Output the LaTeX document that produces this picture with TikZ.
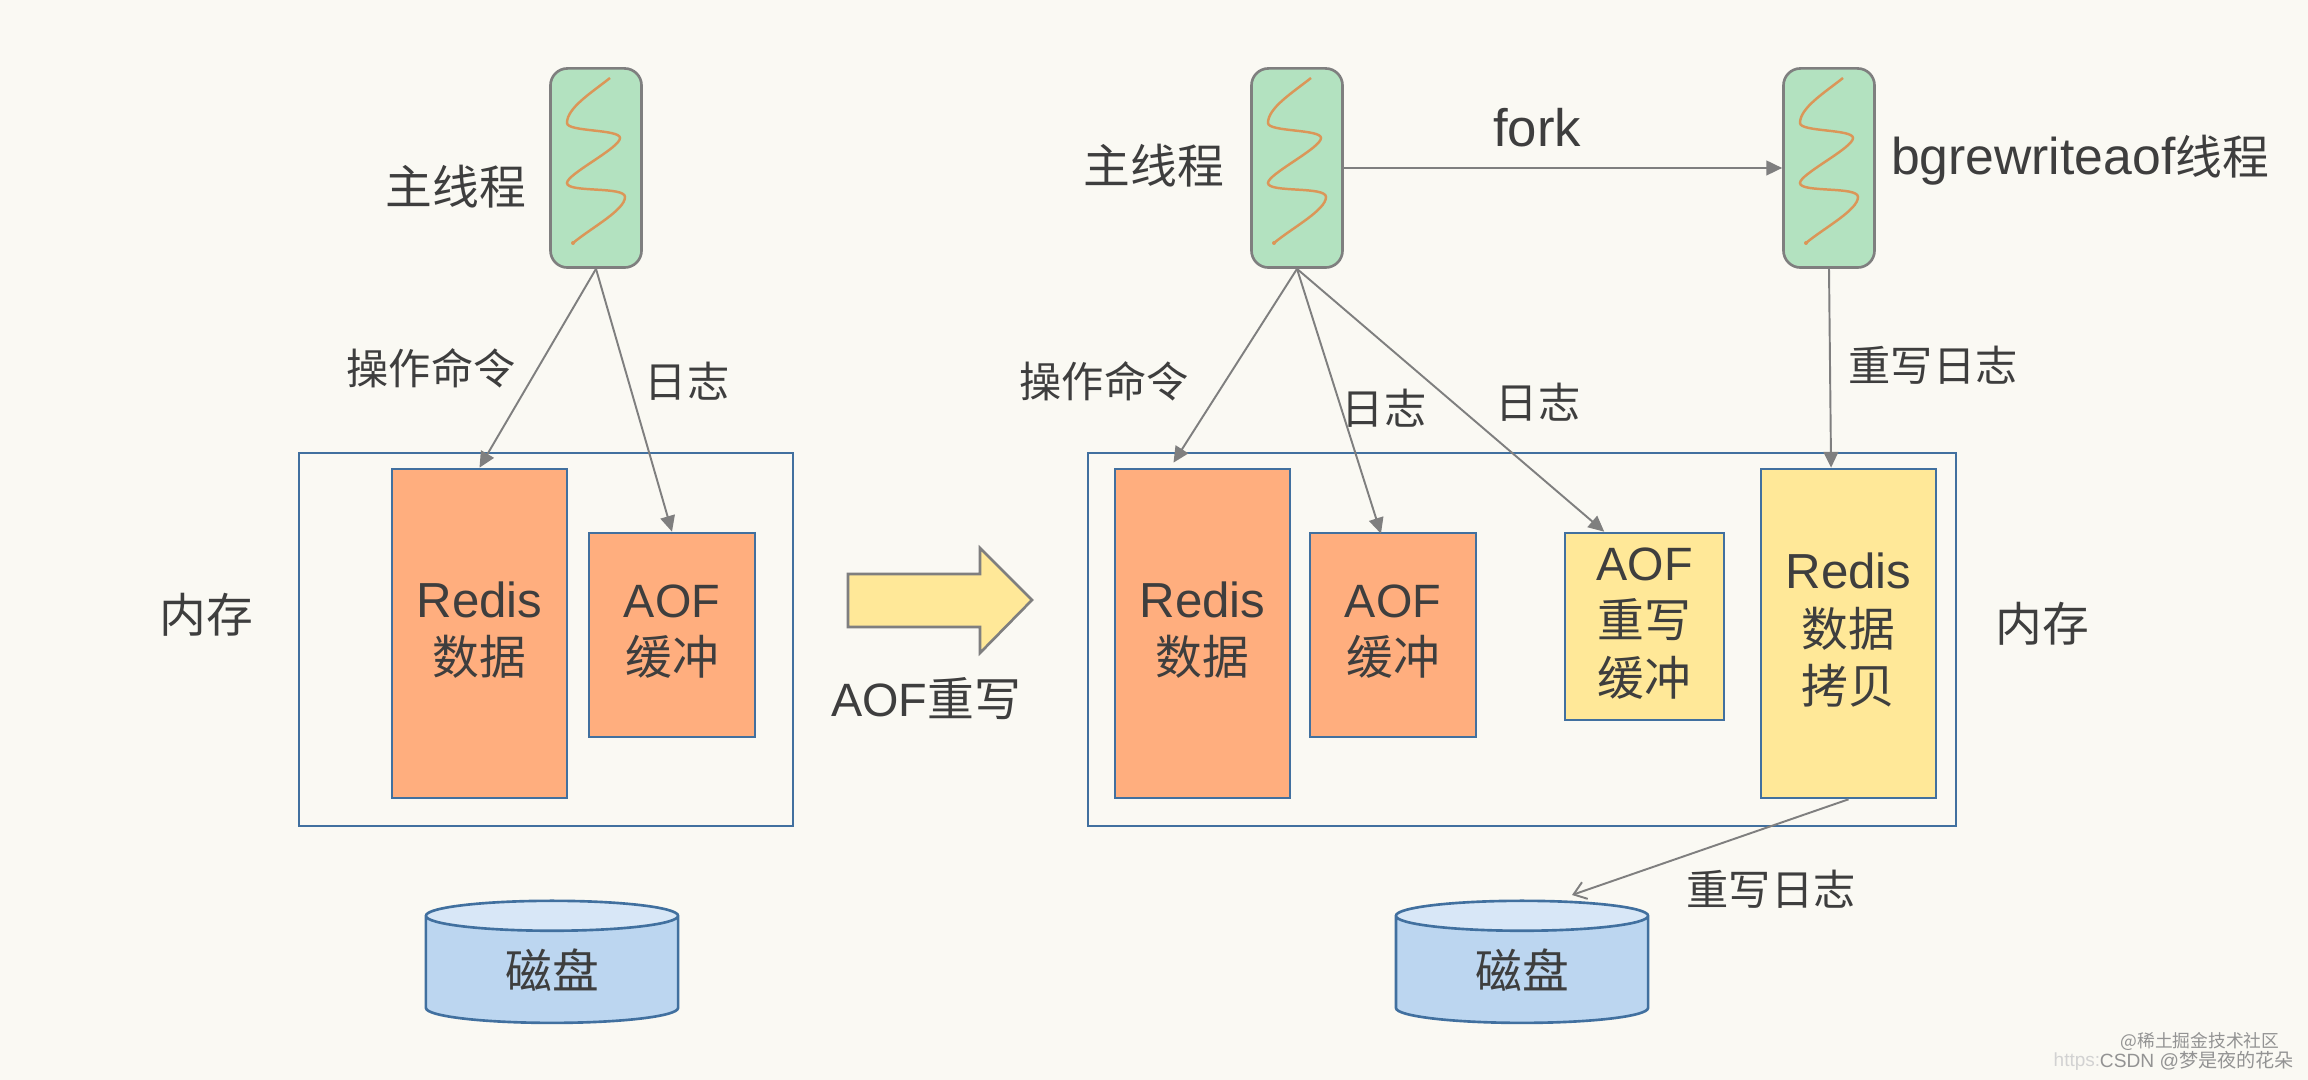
\documentclass[tikz,border=0pt]{standalone}
\usepackage{fontspec}
\setmainfont{Liberation Sans}
\newfontfamily\cjk{Noto Sans CJK SC}
\usetikzlibrary{arrows.meta,shapes.geometric}
\definecolor{bgcol}{HTML}{FAF9F3}
\definecolor{txtcol}{HTML}{3E3E3E}
\definecolor{linecol}{HTML}{7F7F7F}
\definecolor{bordercol}{HTML}{41709F}
\definecolor{threadcol}{HTML}{B3E2C0}
\definecolor{orangecol}{HTML}{FFAE7E}
\definecolor{yellowcol}{HTML}{FFE898}
\definecolor{diskcol}{HTML}{BCD6F0}
\definecolor{disktop}{HTML}{D8E7F7}
\definecolor{wavecol}{HTML}{DB9658}
\newcommand{\redisword}{{\fontsize{14}{16.3}\selectfont Redis}}
\newcommand{\lowstrut}{\rule[-2.9pt]{0pt}{1pt}}
\tikzset{
  bigtxt/.style={text=txtcol,font=\fontsize{13.3}{16.3}\selectfont,align=center,inner sep=0},
  smalltxt/.style={text=txtcol,font=\fontsize{12}{14}\selectfont\cjk,inner sep=0},
  markfont/.style={text=gray!85,inner sep=0},
  threadbox/.style={draw=linecol,fill=threadcol,line width=.75pt,rounded corners=.17cm,
    minimum width=.91cm,minimum height=1.99cm,inner sep=0},
  membox/.style={draw=bordercol,line width=.7pt,inner sep=0},
  orangebox/.style={membox,fill=orangecol,bigtxt},
  yellowbox/.style={membox,fill=yellowcol,bigtxt},
  diskbox/.style={cylinder,shape border rotate=90,aspect=.32,draw=bordercol,line width=.75pt,
    cylinder uses custom fill,cylinder body fill=diskcol,cylinder end fill=disktop,
    minimum width=2.52cm,minimum height=1.22cm,inner sep=0,bigtxt},
  flow/.style={draw=linecol,line width=.55pt,-{Triangle[length=4.5pt,width=4.2pt]}},
  wave/.pic={
    \draw[wavecol,line width=.7pt] (14,-90) .. controls (-5,-75) and (-29,-60) .. (-29,-45)
      .. controls (-29,-36) and (24,-39) .. (24,-30)
      .. controls (24,-20) and (-29,6) .. (-29,15)
      .. controls (-29,25) and (29,18) .. (29,29)
      .. controls (29,42) and (-5,60) .. (-23,75);
    \fill[wavecol] (-23,75) circle (2);
  }
}
\begin{document}
\begin{tikzpicture}[x=.01cm,y=-.01cm]
  \useasboundingbox (0,0) rectangle (2308,1080);
  \fill[bgcol] (0,0) rectangle (2308,1080);

  %% memory frames
  \node[membox,minimum width=4.94cm,minimum height=3.73cm] (memL) at (546,639.5) {};
  \node[membox,minimum width=8.68cm,minimum height=3.73cm] (memR) at (1522,639.5) {};

  %% threads
  \node[threadbox] (mainL) at (596,168) {};
  \node[threadbox] (mainR) at (1297,168) {};
  \node[threadbox] (bgR) at (1829,168) {};
  \path (mainL) pic {wave};
  \path (mainR) pic {wave};
  \path (bgR) pic {wave};

  %% left boxes
  \node[orangebox,minimum width=1.75cm,minimum height=3.29cm] (redisL) at (479.5,633.5) {\redisword\\{\cjk 数据\lowstrut}};
  \node[orangebox,minimum width=1.66cm,minimum height=2.04cm] (aofL) at (672,635) {AOF\\{\cjk 缓冲\lowstrut}};

  %% right boxes
  \node[orangebox,minimum width=1.75cm,minimum height=3.29cm] (redisR) at (1202.5,633.5) {\redisword\\{\cjk 数据\lowstrut}};
  \node[orangebox,minimum width=1.66cm,minimum height=2.04cm] (aofR) at (1393,635) {AOF\\{\cjk 缓冲\lowstrut}};
  \node[yellowbox,minimum width=1.59cm,minimum height=1.87cm] (aofW) at (1644.5,626.5) {AOF\\{\cjk 重写}\\{\cjk 缓冲\lowstrut}};
  \node[yellowbox,minimum width=1.75cm,minimum height=3.29cm] (copyR) at (1848.5,633.5) {\redisword\\{\cjk 数据}\\{\cjk 拷贝\lowstrut}};

  %% disks
  \node[diskbox] (diskL) at (552,970) {\cjk 磁盘};
  \node[diskbox] (diskR) at (1522,970) {\cjk 磁盘};
  \coordinate (diskin) at (1572,895);

  %% big arrow
  \draw[draw=linecol,fill=yellowcol,line width=.75pt] (848,574) -- (980,574) -- (980,548) -- (1032,600)
    -- (980,653) -- (980,627) -- (848,627) -- cycle;

  %% connectors
  \draw[flow] (mainL.south) -- (redisL.north);
  \draw[flow] (mainL.south) -- (aofL.north);
  \draw[flow,shorten >=1.7pt] (mainR.south) -- (redisR.101);
  \draw[flow,shorten >=-.6pt] (mainR.south) -- (aofR.97);
  \draw[flow] (mainR.south) -- (aofW.113);
  \draw[flow] (mainR.east) -- (bgR.west);
  \draw[flow] (bgR.south) -- (copyR.96);
  \draw[draw=linecol,line width=.55pt,-{Straight Barb[length=3.4pt,width=5pt]}] (copyR.south) -- (diskin);

  %% labels
  \node[bigtxt] (lblMainL) at (456,187) {\cjk 主线程};
  \node[bigtxt] (lblMainR) at (1154,166) {\cjk 主线程};
  \node[bigtxt] (lblBg) at (2080,160) {{\fontsize{14.7}{16.3}\selectfont bgrewriteaof}{\cjk 线程}};
  \node[bigtxt,font=\fontsize{15}{16.3}\selectfont] (lblFork) at (1537,128) {fork};
  \node[bigtxt] (lblMemL) at (206,615) {\cjk 内存};
  \node[bigtxt] (lblMemR) at (2042,624) {\cjk 内存};
  \node[bigtxt] (lblRewrite) at (926,699) {AOF{\cjk 重写}};
  \node[smalltxt] (lblCmdL) at (431,368) {操作命令};
  \node[smalltxt] (lblLogL) at (687,381) {日志};
  \node[smalltxt] (lblCmdR) at (1104,381) {操作命令};
  \node[smalltxt] (lblLogR) at (1384,408) {日志};
  \node[smalltxt] (lblLogW) at (1538,402) {日志};
  \node[smalltxt] (lblBgLog) at (1933,365) {重写日志};
  \node[smalltxt] (lblDiskLog) at (1771,889) {重写日志};

  %% watermark
  \node[markfont,anchor=west,text=gray!35,font=\fontsize{5.4}{7}\selectfont] (markUrl) at (2053,1062) {https:};
  \node[markfont,font=\fontsize{5.05}{7}\selectfont\cjk] (markTop) at (2200,1042) {@稀土掘金技术社区};
  \node[markfont,font=\fontsize{5.45}{7}\selectfont] (markCsdn) at (2197,1061) {CSDN @{\cjk 梦是夜的花朵}};
\end{tikzpicture}
\end{document}
